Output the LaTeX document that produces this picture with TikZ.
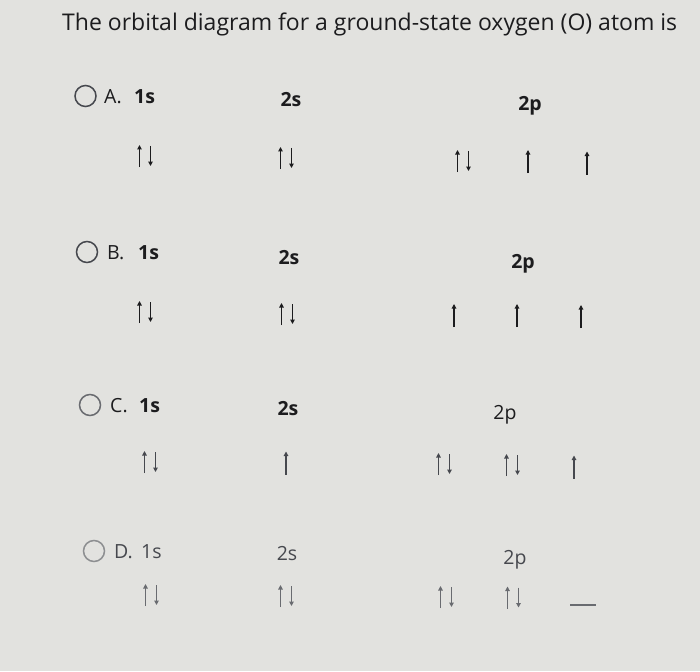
\documentclass[tikz,border=0pt]{standalone}
\usepackage{fontspec}
\setmainfont{Open Sans}
\usetikzlibrary{arrows.meta}
\definecolor{bg}{RGB}{226,226,223}
\definecolor{ink}{RGB}{28,28,30}
\definecolor{inkc}{RGB}{70,72,78}
\definecolor{inkd}{RGB}{105,107,112}
\tikzset{
  title/.style={anchor=base west,inner sep=0pt,text=ink,font=\fontsize{23}{27}\selectfont},
  lbl/.style={anchor=base west,inner sep=0pt,text=ink,font=\fontsize{19.5}{23}\selectfont},
  orb/.style={anchor=base,inner sep=0pt,text=ink,font=\fontsize{19.5}{23}\selectfont\bfseries},
  orbr/.style={orb,font=\fontsize{19.5}{23}\selectfont},
  radio/.style={circle,draw=#1,line width=1.5pt,minimum size=21pt,inner sep=0pt},
  spin/.style={draw=#1,line width=1.2pt,-{Triangle[width=4.5pt,length=4.5pt]}},
  pics/pair/.style={code={
    \draw[spin=#1] (-5.5,11) -- (-5.5,-11);
    \draw[spin=#1] (5.5,-10) -- (5.5,10);
  }},
  pics/single/.style={code={
    \draw[spin=#1] (0,11.5) -- (0,-11.5);
  }}
}
\begin{document}
\begin{tikzpicture}[x=1pt,y=-1pt]
\fill[bg] (0,0) rectangle (700,671);
\useasboundingbox (0,0) rectangle (700,671);
\node[title] (title) at (62,31) {The orbital diagram for a ground-state oxygen (O) atom is};

% A
\node[radio=inkc] (ra) at (85.5,96) {};
\node[lbl] (la) at (104,104) {A.};
\node[orb,anchor=base west] (a1s) at (134,104) {1s};
\node[orb] (a2s) at (291,107) {2s};
\node[orb] (a2p) at (530,111) {2p};
\pic at (145,156) {pair=ink};
\pic at (286,158) {pair=ink};
\pic at (463,161) {pair=ink};
\pic at (528,161.5) {single=ink};
\pic at (587,163) {single=ink};

% B
\node[radio=inkc] (rb) at (87,252) {};
\node[lbl] (lb) at (107,259) {B.};
\node[orb,anchor=base west] (b1s) at (138,259) {1s};
\node[orb] (b2s) at (289,264) {2s};
\node[orb] (b2p) at (523,268) {2p};
\pic at (145,312) {pair=ink};
\pic at (287,314) {pair=ink};
\pic at (454,315.5) {single=ink};
\pic at (517,315.5) {single=ink};
\pic at (581,316.5) {single=ink};

% C
\node[radio=inkd] (rc) at (90,405) {};
\node[lbl] (lc) at (110,412) {C.};
\node[orb,anchor=base west] (c1s) at (139,412) {1s};
\node[orb] (c2s) at (288,415) {2s};
\node[orbr] (c2p) at (505,419) {2p};
\pic at (150,462) {pair=inkc};
\pic at (286,463) {single=inkc};
\pic at (444,464) {pair=inkc};
\pic at (512,465) {pair=inkc};
\pic at (574,467) {single=inkc};

% D
\node[radio=inkd!70!bg] (rd) at (94,551) {};
\node[lbl,text=inkc] (ld) at (114,558) {D.};
\node[orbr,anchor=base west,text=inkc] (d1s) at (141,558) {1s};
\node[orbr,text=inkc] (d2s) at (287,560) {2s};
\node[orbr,text=inkc] (d2p) at (515,564) {2p};
\pic at (151,595) {pair=inkd};
\pic at (286,596) {pair=inkd};
\pic at (446,597) {pair=inkd};
\pic at (513,597.5) {pair=inkd};
\fill[inkd] (570,604.3) rectangle (596,605.7);
\end{tikzpicture}
\end{document}
